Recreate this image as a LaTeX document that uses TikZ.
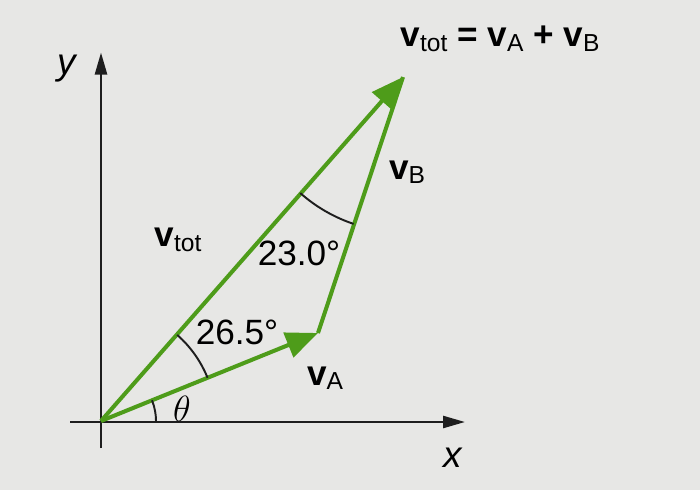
\documentclass[tikz,border=0pt]{standalone}
\usepackage{fontspec}
\setsansfont{Liberation Sans}
\usepackage{tikz}
\usetikzlibrary{positioning, calc, arrows.meta}
\definecolor{VecGreen}{RGB}{78,156,26}
\definecolor{PaperGray}{RGB}{231,231,229}
\definecolor{AxisGray}{RGB}{30,30,30}
\tikzset{
    vec/.style={
        VecGreen, line width=2.3pt, -{Triangle[length=0.64cm, width=0.52cm]}
    },
    axis/.style={
        AxisGray, line width=1.4pt, -{Triangle[length=0.44cm, width=0.24cm]}
    },
    anglearc/.style={
        AxisGray, line width=1.1pt
    },
    vlabel/.style={
        font=\sffamily\fontsize{20}{22}\selectfont, inner sep=1pt
    },
    axislabel/.style={
        font=\sffamily\itshape\fontsize{21}{23}\selectfont, inner sep=1pt
    }
}
\newcommand{\bv}[2]{\textbf{v}{\fontsize{14}{16}\selectfont\raisebox{-0.35ex}{#2}}}

\begin{document}
\begin{tikzpicture}
    % --- nen ---
    \fill[PaperGray] (0,0) rectangle (14,9.8);
    \useasboundingbox (0,0) rectangle (14,9.8);

    % --- cac diem ---
    \coordinate (O) at (2.02,1.38);
    \coordinate (A) at (6.36,3.14);
    \coordinate (B) at (8.06,8.26);
    \coordinate (ybot) at (2.02,0.84);
    \coordinate (ytop) at (2.02,8.75);
    \coordinate (xleft) at (1.40,1.36);
    \coordinate (xright) at (9.30,1.36);

    % truc toa do
    \draw[axis] (ybot) -- (ytop);
    \draw[axis] (xleft) -- (xright);
    \node[axislabel] (ylab) at (1.34,8.42) {y};
    \node[axislabel] (xlab) at (9.06,0.64) {x};

    % vecto
    \draw[vec] (O) -- (A);
    \draw[VecGreen, line width=2.3pt] (A) -- (B);
    \draw[vec] (O) -- (B);

    % cac goc
    \draw[anglearc] ($(O)+(0:1.1)$) arc[start angle=0, end angle=22.1, radius=1.1];
    \draw[anglearc] ($(O)+(22.1:2.3)$) arc[start angle=22.1, end angle=48.5, radius=2.3];
    \draw[anglearc] ($(B)+(228.5:3.1)$) arc[start angle=228.5, end angle=251.4, radius=3.1];

    % nhan
    \node[vlabel] (vtot) at (3.56,5.00) {\bv{v}{tot}};
    \node[vlabel] (vb) at (8.14,6.36) {\bv{v}{B}};
    \node[vlabel] (va) at (6.50,2.24) {\bv{v}{A}};
    \node[vlabel] (ang1) at (4.74,3.16) {26.5\textdegree};
    \node[vlabel] (ang2) at (5.98,4.74) {23.0\textdegree};
    \node[font=\fontsize{20}{22}\selectfont] (theta) at (3.64,1.62) {$\theta$};
    \node[vlabel] (eq) at (10.0,9.02) {\bv{v}{tot} \textbf{=} \bv{v}{A} \textbf{+} \bv{v}{B}};
\end{tikzpicture}
\end{document}
